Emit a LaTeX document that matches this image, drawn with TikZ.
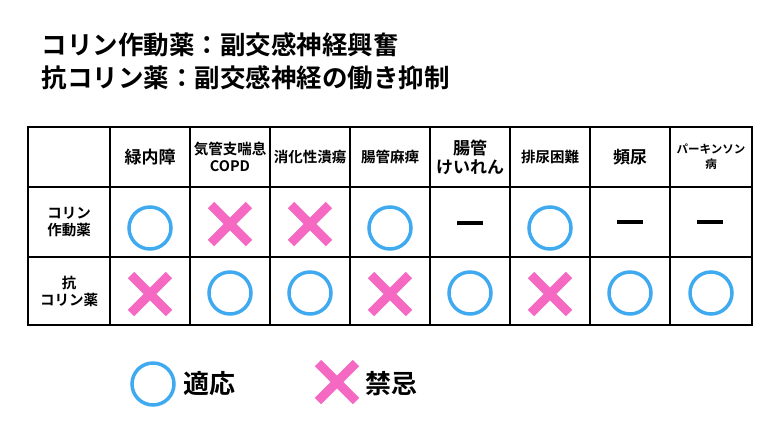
\documentclass[tikz,border=0pt]{standalone}
\usepackage{fontspec}
\setmainfont{Noto Sans CJK JP}[BoldFont={* Bold}]
\definecolor{okc}{RGB}{64,170,240}
\definecolor{ngc}{RGB}{245,105,195}
\begin{document}
\begin{tikzpicture}[x=1pt,y=-1pt,
  grid/.style={draw=black,line width=1.8pt},
  ok/.style={draw=okc,line width=3.5pt,circle,minimum size=42pt,inner sep=0pt},
  ng/.style={draw=ngc,line width=9pt},
  bar/.style={draw=black,line width=3.5pt},
  hd/.style={font=\bfseries\fontsize{17}{19}\selectfont,align=center},
  sm/.style={font=\bfseries\fontsize{14.5}{17}\selectfont,align=center},
  ttl/.style={font=\bfseries\fontsize{25.5}{30}\selectfont,anchor=west}]
\useasboundingbox (0,0) rectangle (768,432);
\node[ttl] (t1) at (38,45) {コリン作動薬：副交感神経興奮};
\node[ttl] (t2) at (38,78) {抗コリン薬：副交感神経の働き抑制};
\draw[grid] (28,127) rectangle (752,325);
\draw[grid] (28,187) -- (752,187) (28,257) -- (752,257);
\foreach \x in {110,190,270,350,430,510,590,670} \draw[grid] (\x,127) -- (\x,325);
\node[hd] (h1) at (150,157) {緑内障};
\node[sm] (h2) at (230,157) {気管支喘息\\COPD};
\node[sm] (h3) at (310,157) {消化性潰瘍};
\node[sm] (h4) at (390,157) {腸管麻痺};
\node[hd] (h5) at (470,157) {腸管\\けいれん};
\node[sm] (h6) at (550,157) {排尿困難};
\node[hd] (h7) at (630,157) {頻尿};
\node[font=\bfseries\fontsize{11.5}{15}\selectfont,align=center] (h8) at (711,157) {パーキンソン\\病};
\node[sm] (r1) at (69,222) {コリン\\作動薬};
\node[sm] (r2) at (69,291) {抗\\コリン薬};
\newcommand{\xx}[2]{\draw[ng] (#1-19,#2-19) -- (#1+19,#2+19) (#1-19,#2+19) -- (#1+19,#2-19);}
% row 1
\node[ok] (a1) at (150,228) {};
\xx{230}{224}
\xx{310}{224}
\node[ok] (a4) at (390,228) {};
\draw[bar] (457,223) -- (483,223);
\node[ok] (a6) at (550,228) {};
\draw[bar] (617,222) -- (643,222);
\draw[bar] (697,222) -- (723,222);
% row 2
\xx{150}{294}
\node[ok] (b2) at (230,293) {};
\node[ok] (b3) at (310,293) {};
\xx{390}{294}
\node[ok] (b5) at (470,293) {};
\xx{550}{294}
\node[ok] (b7) at (630,293) {};
\node[ok] (b8) at (711,293) {};
% legend
\node[ok] (lo) at (153,384) {};
\node[font=\bfseries\fontsize{26}{30}\selectfont,anchor=west] (l1) at (180,384) {適応};
\xx{337}{382}
\node[font=\bfseries\fontsize{26}{30}\selectfont,anchor=west] (l2) at (362,384) {禁忌};
\end{tikzpicture}
\end{document}
